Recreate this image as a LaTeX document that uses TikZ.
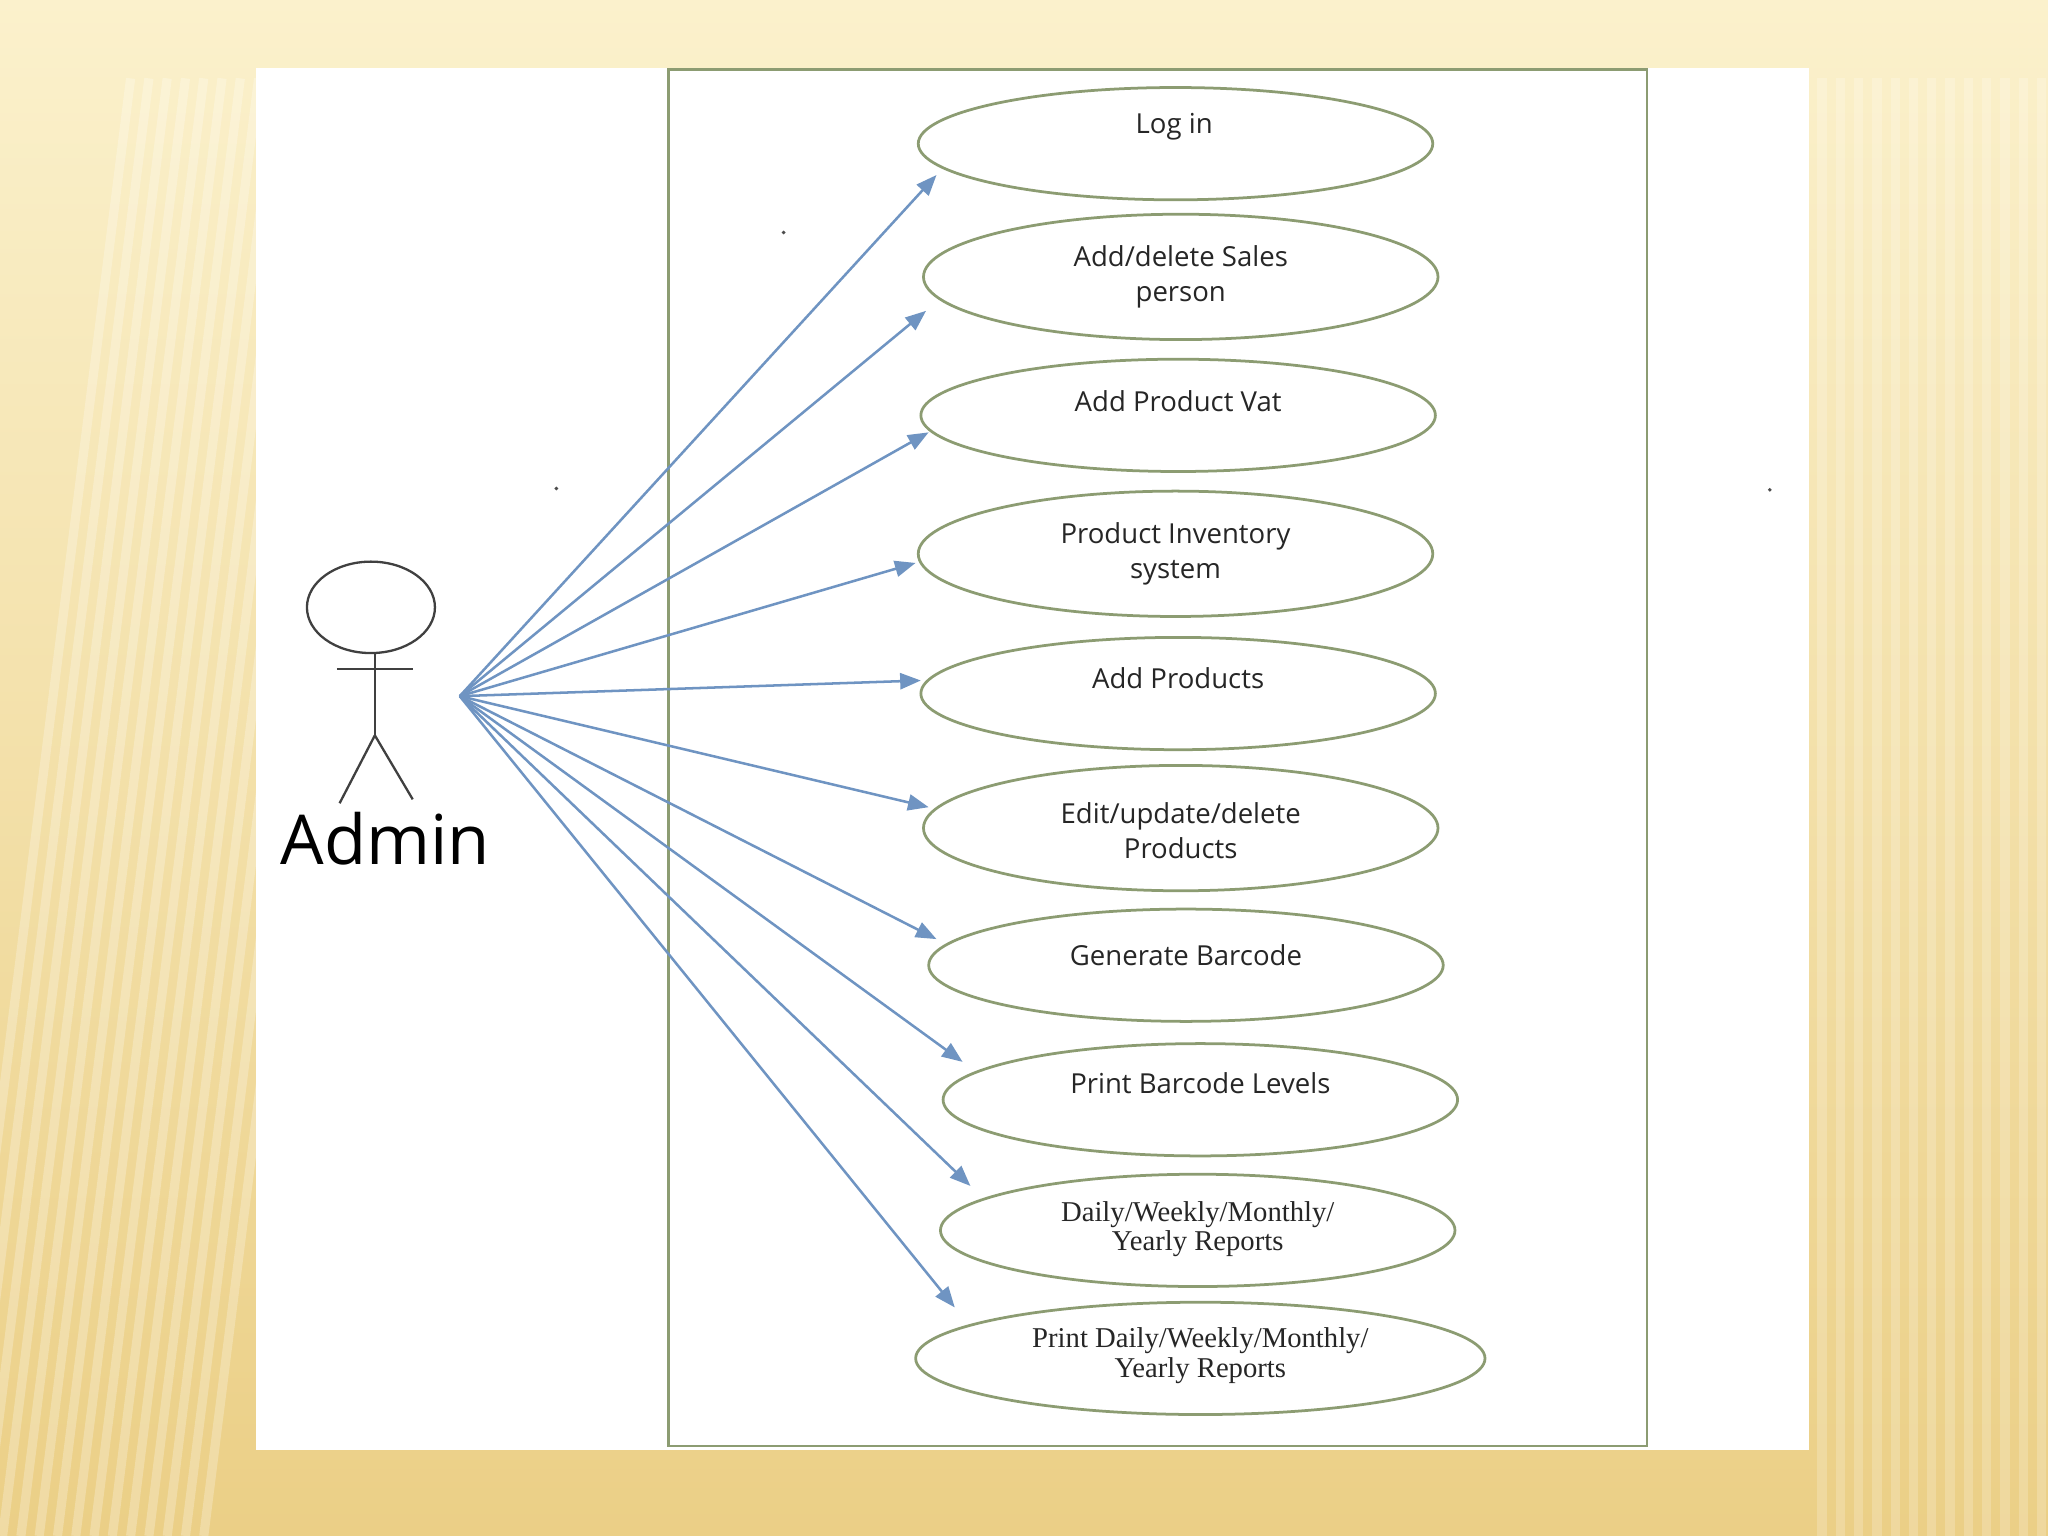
\documentclass[tikz,border=0pt]{standalone}
\usepackage{fontspec}
\setmainfont{Open Sans}
\newfontfamily\serifr{Liberation Serif}
\usetikzlibrary{shapes.geometric,arrows.meta}
\definecolor{arrowblue}{HTML}{6F94C2}
\definecolor{ucline}{HTML}{8C9C72}
\definecolor{bgtop}{HTML}{FBF1CC}
\definecolor{bgbot}{HTML}{EBCF86}
\tikzset{
  uc/.style={ellipse, draw=ucline, line width=1.2pt, fill=white, inner sep=0pt},
  uctext/.style={align=center, font=\fontsize{12}{15}\selectfont, text=black!85},
  ucserif/.style={align=center, font=\serifr\fontsize{12.5}{13}\selectfont, text=black!85},
  assoc/.style={draw=arrowblue, line width=1.1pt, -{Triangle[length=9pt,width=7pt]}},
  actor/.style={draw=black!75, line width=1pt}
}
\begin{document}
\begin{tikzpicture}[x=0.02cm,y=-0.02cm]
\useasboundingbox (0,0) rectangle (1568,1176);
\shade[top color=bgtop, bottom color=bgbot] (0,0) rectangle (1568,1176);
\foreach \i in {0,...,14} {\draw[white,opacity=0.25,line width=4pt] (-40+\i*14,1176) -- (100+\i*14,60);}
\foreach \i in {0,...,12} {\draw[white,opacity=0.2,line width=4pt] (1395+\i*14,60) -- (1395+\i*14,1176);}
\fill[white] (196,52) rectangle (1385,1110);
\draw[ucline,line width=1.2pt] (512,53) rectangle (1261,1107);
\fill[black!70] (600,178) circle (1.5);
\fill[black!70] (426,374) circle (1.5);
\fill[black!70] (1355,375) circle (1.5);
% actor
\draw[actor] (284,465) ellipse (49 and 35);
\draw[actor] (287,500) -- (287,563);
\draw[actor] (258,512) -- (316,512);
\draw[actor] (287,563) -- (260,615);
\draw[actor] (287,563) -- (316,612);
\node[font=\fontsize{30}{34}\selectfont] (admin) at (295,642) {Admin};
\coordinate (a) at (352,533);
% use cases
\node[uc, minimum width=7.88cm, minimum height=1.72cm] (u1) at (900,110) {};
\node[uc, minimum width=7.88cm, minimum height=1.92cm] (u2) at (904,212) {};
\node[uc, minimum width=7.88cm, minimum height=1.72cm] (u3) at (902,318) {};
\node[uc, minimum width=7.88cm, minimum height=1.92cm] (u4) at (900,424) {};
\node[uc, minimum width=7.88cm, minimum height=1.72cm] (u5) at (902,531) {};
\node[uc, minimum width=7.88cm, minimum height=1.92cm] (u6) at (904,634) {};
\node[uc, minimum width=7.88cm, minimum height=1.72cm] (u7) at (908,739) {};
\node[uc, minimum width=7.88cm, minimum height=1.72cm] (u8) at (919,842) {};
\node[uc, minimum width=7.88cm, minimum height=1.72cm] (u9) at (917,942) {};
\node[uc, minimum width=8.72cm, minimum height=1.72cm] (u10) at (919,1040) {};
\node[uctext] at (899,97) {Log in};
\node[uctext] at (904,212) {Add/delete Sales\\person};
\node[uctext] at (902,307) {Add Product Vat};
\node[uctext] at (900,424) {Product Inventory\\system};
\node[uctext] at (902,519) {Add Products};
\node[uctext] at (904,636) {Edit/update/delete\\Products};
\node[uctext] at (908,731) {Generate Barcode};
\node[uctext] at (919,829) {Print Barcode Levels};
\node[ucserif] at (917,941) {Daily/Weekly/Monthly/\\Yearly Reports};
\node[ucserif] at (919,1038) {Print Daily/Weekly/Monthly/\\Yearly Reports};
% arrow ends
\coordinate (e1) at (717,134);
\coordinate (e2) at (709,238);
\coordinate (e3) at (711,331);
\coordinate (e4) at (701,431);
\coordinate (e5) at (705,521);
\coordinate (e6) at (711,618);
\coordinate (e7) at (717,719);
\coordinate (e8) at (737,813);
\coordinate (e9) at (743,908);
\coordinate (e10) at (731,1001);
\foreach \k in {1,...,10} {\draw[assoc] (a) -- (e\k);}
\end{tikzpicture}
\end{document}
